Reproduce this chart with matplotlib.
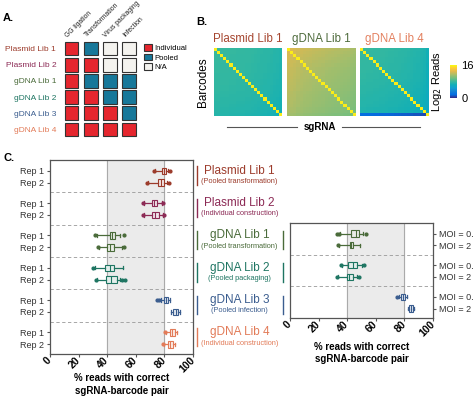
import matplotlib
matplotlib.use('Agg')
import matplotlib.pyplot as plt
import numpy as np
from matplotlib.patches import Rectangle, Patch
from matplotlib.colors import LinearSegmentedColormap, to_rgb
from matplotlib.lines import Line2D
import matplotlib.transforms as mtrans

plt.rcParams['font.family'] = ['Liberation Sans', 'DejaVu Sans']

# ---- panel A data
lib_names = ['Plasmid Lib 1', 'Plasmid Lib 2', 'gDNA Lib 1', 'gDNA Lib 2', 'gDNA Lib 3', 'gDNA Lib 4']
lib_colors = ['#9c3b2b', '#8c2a55', '#4a6b3a', '#1e7562', '#3b5d8f', '#e27b58']
steps = ['GG ligation', 'Transformation', 'Virus packaging', 'Infection']
# 1 = individual, 2 = pooled, 0 = n/a
step_state = [[1, 2, 0, 0],
              [1, 1, 0, 0],
              [1, 2, 2, 2],
              [1, 1, 2, 2],
              [1, 1, 1, 2],
              [1, 1, 1, 1]]
state_names = ['N/A', 'Individual', 'Pooled']
state_colors = ['#f4f3ef', '#e5262e', '#17789a']

# ---- panel B data (log2 reads, off-diagonal level per row / per column, diagonal value)
hm_titles = ['Plasmid Lib 1', 'gDNA Lib 1', 'gDNA Lib 4']
hm_colors = ['#a5452f', '#4e6b3c', '#e3805f']
plasmid1_rows = [8.0, 8.0, 7.9, 7.9, 7.9, 7.8, 7.8, 7.8, 7.7, 7.7, 7.6, 7.6, 7.5, 7.5, 7.4, 7.3, 7.2, 7.1, 7.0, 6.9, 6.8, 6.6]
plasmid1_cols = [8.0, 8.0, 7.9, 7.9, 7.9, 7.8, 7.8, 7.7, 7.7, 7.7, 7.6, 7.6, 7.5, 7.4, 7.3, 7.2, 7.1, 7.0, 6.9, 6.7, 6.6, 6.4]
gdna1_rows = [12.8, 12.6, 12.4, 12.2, 12.0, 11.8, 11.6, 11.5, 11.4, 11.3, 11.2, 11.1, 11.0, 10.9, 10.7, 10.6, 10.5, 10.4, 10.3, 10.1, 10.0, 9.6]
gdna1_cols = [12.8, 12.6, 12.4, 12.1, 11.9, 11.7, 11.6, 11.5, 11.3, 11.2, 11.1, 11.0, 10.8, 10.7, 10.6, 10.5, 10.4, 10.3, 10.2, 10.1, 9.9, 9.7]
gdna4_rows = [8.0, 7.9, 7.9, 7.8, 7.8, 7.7, 7.7, 7.6, 7.5, 7.5, 7.4, 7.3, 7.2, 7.1, 7.0, 6.9, 6.8, 6.7, 6.6, 6.4, 6.2, -4.5]
gdna4_cols = [7.9, 7.9, 7.8, 7.8, 7.7, 7.7, 7.6, 7.6, 7.5, 7.4, 7.4, 7.3, 7.2, 7.1, 7.0, 6.9, 6.8, 6.6, 6.5, 6.3, 6.0, 5.2]
diag_value = [15.5, 15.5, 15.5]
parula = [(0.208, 0.166, 0.529), (0.017, 0.427, 0.879), (0.078, 0.504, 0.838),
          (0.064, 0.625, 0.815), (0.059, 0.684, 0.725), (0.218, 0.725, 0.619),
          (0.442, 0.745, 0.503), (0.647, 0.746, 0.419), (0.873, 0.727, 0.314),
          (0.996, 0.786, 0.220), (0.976, 0.983, 0.054)]

# ---- panel C data (box stats: whisker low, q1, median, q3, whisker high, outliers)
rep_labels = ['Rep 1', 'Rep 2']
left_lo = [73.5, 68.5, 66.0, 66.0, 33.0, 34.5, 31.5, 33.0, 77.5, 84.5, 81.0, 80.0]
left_q1 = [78.0, 75.5, 71.0, 71.0, 42.0, 40.0, 38.5, 39.0, 79.7, 86.0, 84.0, 82.7]
left_med = [79.5, 77.5, 73.0, 73.5, 43.5, 42.0, 42.0, 43.0, 81.0, 88.0, 85.5, 84.0]
left_q3 = [81.0, 80.0, 75.0, 76.0, 45.5, 44.5, 45.0, 47.0, 82.7, 89.7, 87.4, 85.8]
left_hi = [82.5, 82.0, 78.0, 79.0, 49.0, 50.5, 51.0, 49.0, 84.0, 91.0, 88.6, 87.4]
left_out = [[72.5, 84.0], [67.5, 83.5], [65.0, 79.0], [65.0, 80.0], [31.5, 52.0], [33.5, 52.0],
            [30.3], [31.9, 50.5, 52.5], [74.6, 76.5], [], [80.4], [79.2]]
subtitles = ['(Pooled transformation)', '(Individual construction)', '(Pooled transformation)',
             '(Pooled packaging)', '(Pooled infection)', '(Individual construction)']

moi_labels = ['MOI = 0.25', 'MOI = 2']
right_libs = [2, 3, 4]
right_lo = [35.0, 34.5, 36.5, 33.5, 76.0, 82.2]
right_q1 = [42.4, 42.0, 40.8, 39.6, 77.6, 83.4]
right_med = [46.0, 43.0, 43.8, 41.5, 79.0, 84.6]
right_q3 = [48.5, 44.3, 47.0, 43.8, 80.4, 85.8]
right_hi = [51.3, 49.0, 50.0, 47.0, 81.6, 86.7]
right_out = [[32.6, 34.0, 53.0], [33.3], [35.4, 51.7], [32.6, 48.5], [74.6], []]

W, H = 474, 398
fig = plt.figure(figsize=(W / 100, H / 100), dpi=100)


def px_axes(left, top, width, height):
    return fig.add_axes([left / W, 1 - (top + height) / H, width / W, height / H])


# ================= A
axA = px_axes(61.8, 40.4, 77.2, 97.2)
axA.set_xlim(-0.5, 3.5)
axA.set_ylim(5.5, -0.5)
for i, row in enumerate(step_state):
    for j, s in enumerate(row):
        axA.add_patch(Rectangle((j - 0.36, i - 0.43), 0.72, 0.86, facecolor=state_colors[s],
                                edgecolor='#333333', lw=0.8))
axA.set_yticks(range(len(lib_names)))
axA.set_yticklabels(lib_names, fontsize=6)
for t, c in zip(axA.get_yticklabels(), lib_colors):
    t.set_color(c)
axA.tick_params(length=0, pad=4)
axA.set_xticks([])
for s in axA.spines.values():
    s.set_visible(False)
for j, name in enumerate(steps):
    axA.text(j - 0.15, -0.6, name, rotation=45, ha='left', va='bottom', rotation_mode='anchor',
             fontsize=4.9, color='#222222')
handles = [Patch(facecolor=state_colors[k], edgecolor='#333333', lw=0.8) for k in (1, 2, 0)]
fig.legend(handles, [state_names[k] for k in (1, 2, 0)], loc='upper left',
           bbox_to_anchor=(144 / W, 1 - 44 / H), frameon=False, fontsize=5.5,
           handlelength=1.0, handleheight=1.0, handletextpad=0.3, labelspacing=0.2,
           borderpad=0, borderaxespad=0)

# ================= B
cmap = LinearSegmentedColormap.from_list('parula', parula)
rows_list = [plasmid1_rows, gdna1_rows, gdna4_rows]
cols_list = [plasmid1_cols, gdna1_cols, gdna4_cols]
lefts = [214, 287, 360]
for k in range(3):
    ax = px_axes(lefts[k], 48, 68, 68)
    mat = (np.array(rows_list[k])[:, None] + np.array(cols_list[k])[None, :]) / 2
    np.fill_diagonal(mat, diag_value[k])
    im = ax.imshow(mat, cmap=cmap, vmin=0, vmax=16, aspect='auto', interpolation='nearest')
    ax.set_xticks([])
    ax.set_yticks([])
    for s in ax.spines.values():
        s.set_visible(False)
    ax.set_title(hm_titles[k], color=hm_colors[k], fontsize=8.3, pad=4)

cax = px_axes(450, 65, 7, 33)
cb = fig.colorbar(im, cax=cax, ticks=[0, 16])
cb.outline.set_visible(False)
cax.tick_params(length=0, labelsize=8, pad=3)
cax.yaxis.set_label_position('left')
cax.set_ylabel('Log$_2$ Reads', fontsize=8, labelpad=4)

fig.text(203 / W, 1 - 82 / H, 'Barcodes', rotation=90, fontsize=8.5, ha='center', va='center')
fig.text(320 / W, 1 - 127 / H, 'sgRNA', fontsize=7, ha='center', va='center', weight='bold')
fig.add_artist(Line2D([227 / W, 297 / W], [1 - 127 / H] * 2, color='#555555', lw=0.8))
fig.add_artist(Line2D([342 / W, 420 / W], [1 - 127 / H] * 2, color='#555555', lw=0.8))

# ================= C


def light(c, f=0.12):
    r = np.array(to_rgb(c))
    return tuple(1 - f * (1 - r))


def box_panel(ax, lo, q1, med, q3, hi, out, libs, ticklabels, label_y):
    n = len(libs)
    ax.axvspan(40, 80, color='#ebebeb', zorder=0)
    ax.axvline(40, color='#aaaaaa', lw=0.8, zorder=1)
    ax.axvline(80, color='#aaaaaa', lw=0.8, zorder=1)
    for g in range(1, n):
        ax.axhline(3 * g, color='#999999', lw=0.6, ls=(0, (4, 3)), zorder=1)
    pos = []
    for g in range(n):
        pos += [3 * g + 1.0, 3 * g + 2.1]
    for i in range(len(lo)):
        c = lib_colors[libs[i // 2]]
        st = [dict(whislo=lo[i], q1=q1[i], med=med[i], q3=q3[i], whishi=hi[i], fliers=out[i])]
        ax.bxp(st, positions=[pos[i]], orientation='horizontal', widths=0.6, capwidths=0.3,
               patch_artist=True, manage_ticks=False,
               boxprops=dict(facecolor=light(c), edgecolor=c, lw=0.8),
               medianprops=dict(color=c, lw=0.8),
               whiskerprops=dict(color=c, lw=0.9),
               capprops=dict(color=c, lw=0.9),
               flierprops=dict(marker='o', markersize=2, markerfacecolor=c, markeredgecolor=c))
    ax.set_xlim(0, 100)
    ax.set_ylim(3 * n, 0)
    ax.set_yticks(pos)
    ax.set_yticklabels(ticklabels * n, fontsize=6.5, color='#333333')
    ax.set_xticks(range(0, 101, 20))
    ax.set_xticklabels([str(v) for v in range(0, 101, 20)], rotation=45, ha='right', va='center',
                       rotation_mode='anchor', fontsize=7.5, weight='bold')
    ax.tick_params(length=2.5, width=0.8, color='#555555', pad=2)
    ax.tick_params(axis='x', pad=1)
    for s in ax.spines.values():
        s.set_color('#555555')
        s.set_linewidth(0.9)
    ax.set_xlabel('% reads with correct\nsgRNA-barcode pair', fontsize=7, weight='bold',
                  linespacing=1.3, va='top')
    ax.xaxis.set_label_coords(0.5, label_y)
    return pos


axL = px_axes(50, 160, 143, 194)
box_panel(axL, left_lo, left_q1, left_med, left_q3, left_hi, left_out, list(range(6)), rep_labels,
          -0.1)
trL = mtrans.blended_transform_factory(axL.transAxes, axL.transData)
for g in range(6):
    c = lib_colors[g]
    axL.text(1.325, 3 * g + 1.0, lib_names[g], transform=trL, ha='center', va='center',
             fontsize=8.5, color=c, clip_on=False)
    axL.text(1.325, 3 * g + 2.0, subtitles[g], transform=trL, ha='center', va='center',
             fontsize=5.3, color=c, clip_on=False)
    axL.plot([1.03, 1.03], [3 * g + 0.6, 3 * g + 2.3], transform=trL, color=c, lw=1.0,
             clip_on=False)
    if g in right_libs:
        axL.plot([1.627, 1.627], [3 * g + 0.6, 3 * g + 2.3], transform=trL, color=c, lw=1.0,
                 clip_on=False)

axR = px_axes(290, 223, 143, 95)
box_panel(axR, right_lo, right_q1, right_med, right_q3, right_hi, right_out, right_libs, moi_labels,
          -0.25)
axR.yaxis.tick_right()

fig.text(3 / W, 1 - 18 / H, 'A.', fontsize=8, weight='bold', va='center')
fig.text(196 / W, 1 - 22 / H, 'B.', fontsize=8, weight='bold', va='center')
fig.text(3 / W, 1 - 158 / H, 'C.', fontsize=8, weight='bold', va='center')

fig.savefig('out.png', dpi=100)
